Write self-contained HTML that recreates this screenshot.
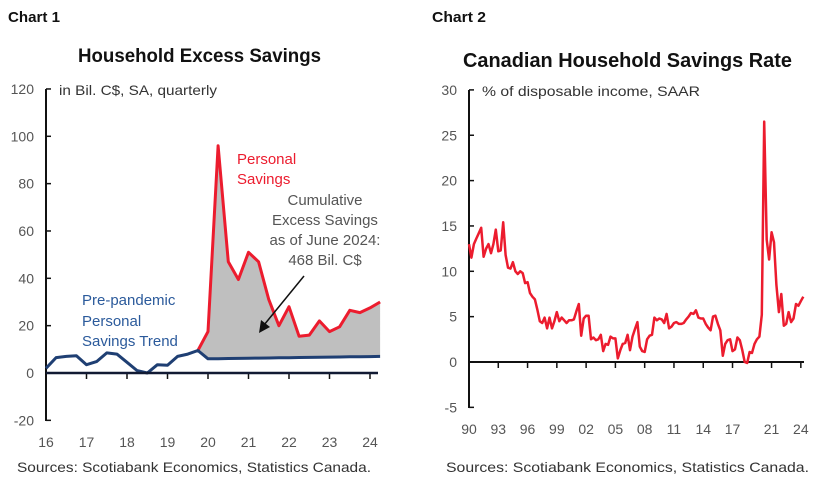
<!DOCTYPE html>
<html><head><meta charset="utf-8"><style>
body{margin:0;background:#fff;width:828px;height:483px;overflow:hidden}
svg{font-family:"Liberation Sans",sans-serif}
</style></head><body>
<svg id="s" width="828" height="483" xmlns="http://www.w3.org/2000/svg">
<text x="8" y="22" font-size="15" font-weight="bold" fill="#111" textLength="52" lengthAdjust="spacingAndGlyphs">Chart 1</text>
<text x="432" y="22" font-size="15" font-weight="bold" fill="#111" textLength="54" lengthAdjust="spacingAndGlyphs">Chart 2</text>
<text x="78" y="62" font-size="19" font-weight="bold" fill="#111" textLength="243" lengthAdjust="spacingAndGlyphs">Household Excess Savings</text>
<text x="463" y="67" font-size="20" font-weight="bold" fill="#111" textLength="329" lengthAdjust="spacingAndGlyphs">Canadian Household Savings Rate</text>
<text x="59" y="95" font-size="14" fill="#333" textLength="158" lengthAdjust="spacingAndGlyphs">in Bil. C$, SA, quarterly</text>
<text x="482" y="96" font-size="14" fill="#333" textLength="218" lengthAdjust="spacingAndGlyphs">% of disposable income, SAAR</text>
<text x="17" y="472" font-size="14" fill="#333" textLength="354" lengthAdjust="spacingAndGlyphs">Sources: Scotiabank Economics, Statistics Canada.</text>
<text x="446" y="472" font-size="14" fill="#333" textLength="363" lengthAdjust="spacingAndGlyphs">Sources: Scotiabank Economics, Statistics Canada.</text>
<g id="c1"></g><g id="c2"></g>
</svg>
<script>
var NS="http://www.w3.org/2000/svg";
function el(p,t,a,txt){var e=document.createElementNS(NS,t);for(var k in a)e.setAttribute(k,a[k]);if(txt!=null)e.textContent=txt;p.appendChild(e);return e;}
var g=document.getElementById('c1');
var X=function(yr){return 46+(yr-2016)*40.5}, Y=function(v){return 373-v*2.367};
var blue=[2,6.5,7,7.3,3.5,4.8,8.5,8,4.5,1,0,3.5,3.3,7,8,9.5];
var red=[9.5,17.5,96,47,39.5,51,47,31,20,28,15.5,16,22,17.5,19.5,26.5,25.5,27.5,30];
var bp=[];for(var i=0;i<blue.length;i++)bp.push([X(2016+i*0.25),Y(blue[i])]);
bp[10][0]=X(2018.5);bp[11][0]=X(2018.75);
var trend=[];for(var i=0;i<=17;i++){var yr=2020+i*0.25;trend.push([X(yr),Y(6+i*1/17)]);}
var rp=[];for(var i=0;i<red.length;i++)rp.push([X(2019.75+i*0.25),Y(red[i])]);
function pts(a){return a.map(function(p){return p[0].toFixed(1)+','+p[1].toFixed(1)}).join(' ');}
el(g,'polygon',{points:pts(rp)+' '+pts(trend.slice().reverse()),fill:'#bfbfbf'});
el(g,'line',{x1:46,y1:89,x2:46,y2:421,stroke:'#111','stroke-width':2});
for(var v=-20;v<=120;v+=20){var y=Y(v);el(g,'line',{x1:46,y1:y,x2:51,y2:y,stroke:'#111','stroke-width':1.5});
el(g,'text',{x:34,y:y+5,'font-size':14,fill:'#555','text-anchor':'end'},String(v));}
for(var yr=2016;yr<=2024;yr++){var x=X(yr);if(yr>2016)el(g,'line',{x1:x,y1:373,x2:x,y2:379,stroke:'#111','stroke-width':1.5});
el(g,'text',{x:x,y:447,'font-size':14,fill:'#555','text-anchor':'middle'},String(yr-2000));}
el(g,'polyline',{points:pts(rp),fill:'none',stroke:'#ec1c2e','stroke-width':3,'stroke-linejoin':'round'});
el(g,'polyline',{points:pts(bp.concat(trend)),fill:'none',stroke:'#1f3f73','stroke-width':3,'stroke-linejoin':'round'});
el(g,'line',{x1:46,y1:373,x2:378,y2:373,stroke:'#111a33','stroke-width':2.5});
[['Personal',237,164],['Savings',237,184]].forEach(function(t){el(g,'text',{x:t[1],y:t[2],'font-size':15,fill:'#ec1c2e'},t[0]);});
[['Cumulative',325,205],['Excess Savings',325,225],['as of June 2024:',325,245],['468 Bil. C$',325,265]].forEach(function(t){el(g,'text',{x:t[1],y:t[2],'font-size':15,fill:'#555','text-anchor':'middle'},t[0]);});
[['Pre-pandemic',82,305],['Personal',82,326],['Savings Trend',82,346]].forEach(function(t){el(g,'text',{x:t[1],y:t[2],'font-size':15,fill:'#2b5a9b'},t[0]);});
el(g,'line',{x1:304,y1:276,x2:264,y2:325,stroke:'#111','stroke-width':1.5});
el(g,'polygon',{points:'259,333 261,320 270,327',fill:'#111'});
var g2=document.getElementById('c2');
var X2=function(yr){return 469+(yr-1990)*9.76}, Y2=function(v){return 362-v*9.07};
var d=[13,11.5,13,13.6,14.2,14.8,11.6,12.5,13,12,13,14.6,12.2,12.3,15.4,11.8,10.4,10.3,11,10,9.7,10,9.8,8.7,8.8,7.6,7.2,6.9,5.8,4.5,4.3,4.9,3.7,4.9,3.7,4.5,5.5,4.5,4.9,4.6,4.3,4.6,4.6,4.7,5.6,6.4,2.9,4.8,5.1,5.1,2.5,2.7,2.4,2.5,3,1.2,2,1.9,2.8,2.6,2.6,0.4,1.3,2,2.1,3,1.3,2.8,3.6,4.4,1.7,1.2,1.1,2.5,2.9,3,4.9,4.6,4.8,4.7,4.3,5.3,3.7,3.9,4.3,4.4,4.2,4.2,4.3,4.7,5,5.4,5.3,5.7,4.9,4.8,4.8,4.2,3.8,3.5,5,5.1,4.2,3.5,0.7,2,2.4,2.5,1.2,1.4,2.7,2.4,1.3,0,-0.1,1.1,1,2,2.5,2.8,5.2,26.5,13.5,11.3,14.3,13.2,8.5,5.5,7.5,4,4.2,5.5,4.4,4.8,6.4,6.2,6.7,7.2];
var p2=[];var n=d.length;for(var i=0;i<n;i++){p2.push([X2(2024.25-(n-1-i)*0.25),Y2(d[i])]);}
el(g2,'line',{x1:469,y1:362,x2:804,y2:362,stroke:'#111','stroke-width':2});
el(g2,'line',{x1:469,y1:90,x2:469,y2:408,stroke:'#111','stroke-width':2});
for(var v=-5;v<=30;v+=5){var y=Y2(v);el(g2,'line',{x1:469,y1:y,x2:474,y2:y,stroke:'#111','stroke-width':1.5});
el(g2,'text',{x:457,y:y+5,'font-size':14,fill:'#555','text-anchor':'end'},String(v));}
var labs=['90','93','96','99','02','05','08','11','14','17','21','24'];var yrs=[1990,1993,1996,1999,2002,2005,2008,2011,2014,2017,2021,2024];
for(var i=0;i<yrs.length;i++){var x=X2(yrs[i]);if(i>0)el(g2,'line',{x1:x,y1:362,x2:x,y2:368,stroke:'#111','stroke-width':1.5});
el(g2,'text',{x:x,y:434,'font-size':14,fill:'#555','text-anchor':'middle'},labs[i]);}
el(g2,'polyline',{points:pts(p2),fill:'none',stroke:'#ec1c2e','stroke-width':2.5,'stroke-linejoin':'round'});
</script>
</body></html>
